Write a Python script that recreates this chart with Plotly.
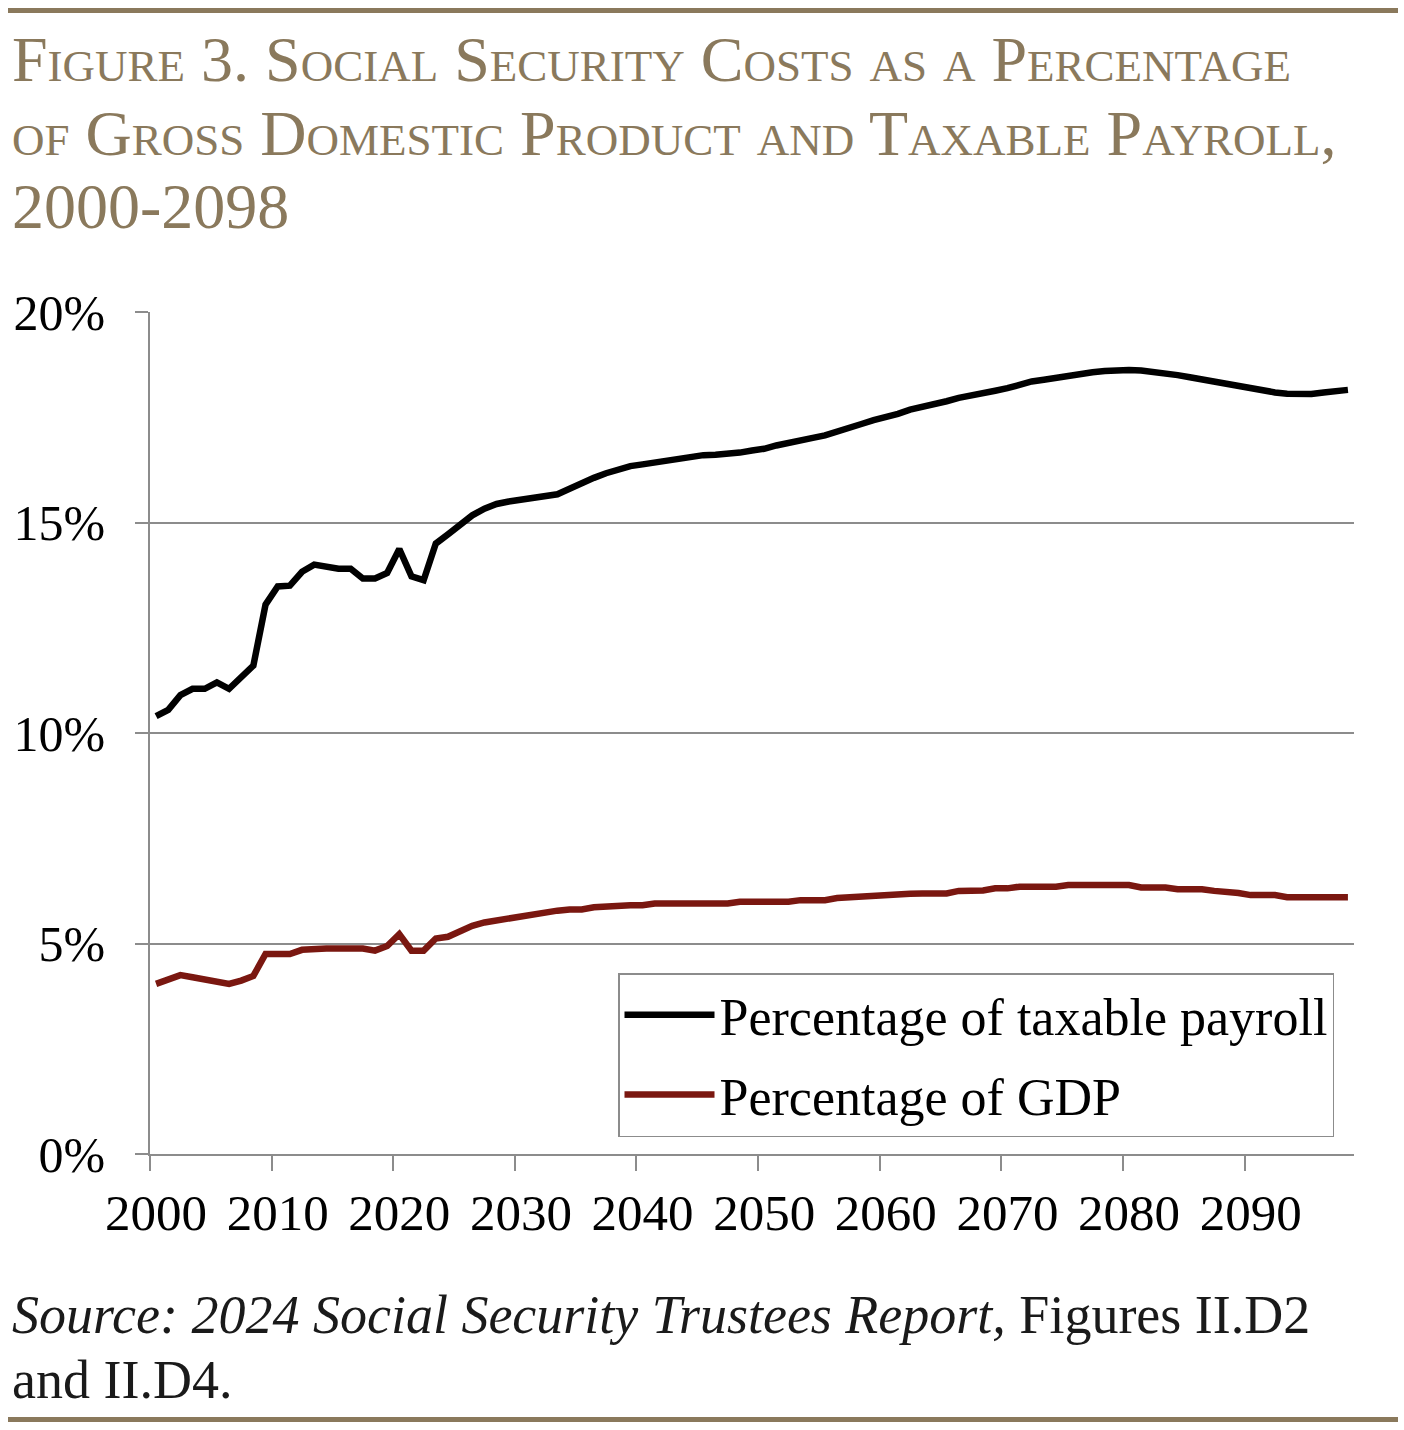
import plotly.graph_objects as go

years = list(range(2000, 2099))

payroll = [
    10.40, 10.55, 10.90, 11.05, 11.05, 11.20, 11.05, 11.35, 11.60, 13.05,
    13.48, 13.50, 13.83, 14.00, 13.95, 13.90, 13.90, 13.67, 13.67, 13.80,
    14.37, 13.72, 13.63, 14.50, 14.72, 14.95, 15.17, 15.33, 15.44, 15.50,
    15.55, 15.59, 15.63, 15.67, 15.80, 15.95, 16.06, 16.17, 16.27, 16.34,
    16.38, 16.43, 16.48, 16.52, 16.56, 16.60, 16.61, 16.62, 16.66, 16.71,
    16.75, 16.83, 16.88, 16.93, 17.01, 17.07, 17.15, 17.24, 17.34, 17.43,
    17.49, 17.58, 17.68, 17.74, 17.80, 17.88, 17.96, 18.03, 18.08, 18.13,
    18.19, 18.28, 18.35, 18.39, 18.44, 18.48, 18.53, 18.57, 18.60, 18.62,
    18.62, 18.61, 18.58, 18.54, 18.50, 18.45, 18.40, 18.34, 18.27, 18.22,
    18.17, 18.13, 18.09, 18.06, 18.04, 18.05, 18.09, 18.11, 18.15,
]

gdp = [
    4.04, 4.15, 4.25, 4.20, 4.15, 4.08, 4.04, 4.12, 4.23, 4.75,
    4.75, 4.75, 4.85, 4.88, 4.88, 4.88, 4.88, 4.88, 4.83, 4.94,
    5.22, 4.83, 4.83, 5.12, 5.16, 5.30, 5.42, 5.50, 5.55, 5.60,
    5.65, 5.70, 5.74, 5.78, 5.81, 5.81, 5.86, 5.88, 5.91, 5.91,
    5.91, 5.95, 5.95, 5.95, 5.95, 5.95, 5.95, 5.95, 5.99, 5.99,
    5.99, 5.99, 5.99, 6.03, 6.03, 6.03, 6.08, 6.10, 6.13, 6.15,
    6.17, 6.18, 6.18, 6.19, 6.19, 6.19, 6.25, 6.25, 6.26, 6.31,
    6.31, 6.35, 6.35, 6.35, 6.35, 6.39, 6.39, 6.39, 6.39, 6.39,
    6.39, 6.33, 6.33, 6.33, 6.29, 6.29, 6.29, 6.25, 6.24, 6.20,
    6.15, 6.15, 6.15, 6.10, 6.10, 6.10, 6.10, 6.10, 6.10,
]

x_tick_vals = [2000, 2010, 2020, 2030, 2040, 2050, 2060, 2070, 2080, 2090]
x_tick_text = [str(v) for v in x_tick_vals]
y_tick_vals = [0, 5, 10, 15, 20]
y_tick_text = ["0%", "5%", "10%", "15%", "20%"]

series_names = ["Percentage of taxable payroll", "Percentage of GDP"]

title_lines = [
    "Figure 3. Social Security Costs as a Percentage",
    "of Gross Domestic Product and Taxable Payroll,",
    "2000-2098",
]
source_line1 = "<i>Source: 2024 Social Security Trustees Report,</i> Figures II.D2"
source_line2 = "and II.D4."

FONT = "Liberation Serif"
GOLD = "#8a795c"
GRID = "#8c8c8c"
RED = "#7a1710"

W, H = 1404, 1430
L, R, T, B = 150, 50, 312, 276
PW = W - L - R
PH = H - T - B


def px(xp):
    return (xp - L) / PW


def py(yp):
    return (H - B - yp) / PH


fig = go.Figure()
fig.add_trace(go.Scatter(
    x=years, y=payroll, mode="lines", name=series_names[0],
    line=dict(color="#000000", width=6.5), legendgroup="a",
))
fig.add_trace(go.Scatter(
    x=years, y=gdp, mode="lines", name=series_names[1],
    line=dict(color=RED, width=6.5), legendgroup="b",
))

annotations = []
for i, t in enumerate(title_lines):
    annotations.append(dict(
        xref="paper", yref="paper", x=px(10), y=py(60 + 73 * i),
        xanchor="left", yanchor="middle", showarrow=False, text=t,
        font=dict(family=FONT, size=64, color=GOLD, variant="small-caps"),
    ))
annotations.append(dict(
    xref="paper", yref="paper", x=px(10), y=py(1315),
    xanchor="left", yanchor="middle", showarrow=False, text=source_line1,
    font=dict(family=FONT, size=54, color="#1a1a1a"),
))
annotations.append(dict(
    xref="paper", yref="paper", x=px(10), y=py(1380),
    xanchor="left", yanchor="middle", showarrow=False, text=source_line2,
    font=dict(family=FONT, size=54, color="#1a1a1a"),
))

shapes = [
    dict(type="line", xref="paper", yref="paper", x0=px(8), x1=px(1398),
         y0=py(10.5), y1=py(10.5), line=dict(color=GOLD, width=5)),
    dict(type="line", xref="paper", yref="paper", x0=px(8), x1=px(1398),
         y0=py(1419.5), y1=py(1419.5), line=dict(color=GOLD, width=5)),
]

fig.update_layout(
    width=W, height=H,
    margin=dict(l=L, r=R, t=T, b=B),
    paper_bgcolor="white", plot_bgcolor="white",
    font=dict(family=FONT, color="#000000"),
    annotations=annotations,
    shapes=shapes,
    showlegend=True,
    legend=dict(
        x=px(618), y=py(973), xanchor="left", yanchor="top",
        bgcolor="white", bordercolor=GRID, borderwidth=1.5,
        font=dict(family=FONT, size=52, color="#000000"),
        traceorder="grouped", tracegroupgap=9, itemwidth=90,
    ),
    xaxis=dict(
        range=[1999.5, 2098.5], tickmode="array",
        tickvals=x_tick_vals, ticktext=x_tick_text, ticks="",
        tickangle=0, ticklabelstandoff=13,
        tickfont=dict(family=FONT, size=51, color="#000000"),
        showgrid=False, zeroline=False,
        showline=True, linecolor=GRID, linewidth=1.5,
        minor=dict(tickvals=[v - 0.5 for v in x_tick_vals], ticks="outside",
                   ticklen=15, tickcolor=GRID, tickwidth=1.5, showgrid=False),
    ),
    yaxis=dict(
        range=[0, 20], tickmode="array",
        tickvals=y_tick_vals, ticktext=y_tick_text,
        ticks="outside", ticklen=13, tickcolor=GRID, tickwidth=1.5,
        ticklabelstandoff=20,
        tickfont=dict(family=FONT, size=50, color="#000000"),
        showgrid=True, gridcolor=GRID, gridwidth=1.5,
        zeroline=False, showline=True, linecolor=GRID, linewidth=1.5,
    ),
)

fig.write_html("out.html")
